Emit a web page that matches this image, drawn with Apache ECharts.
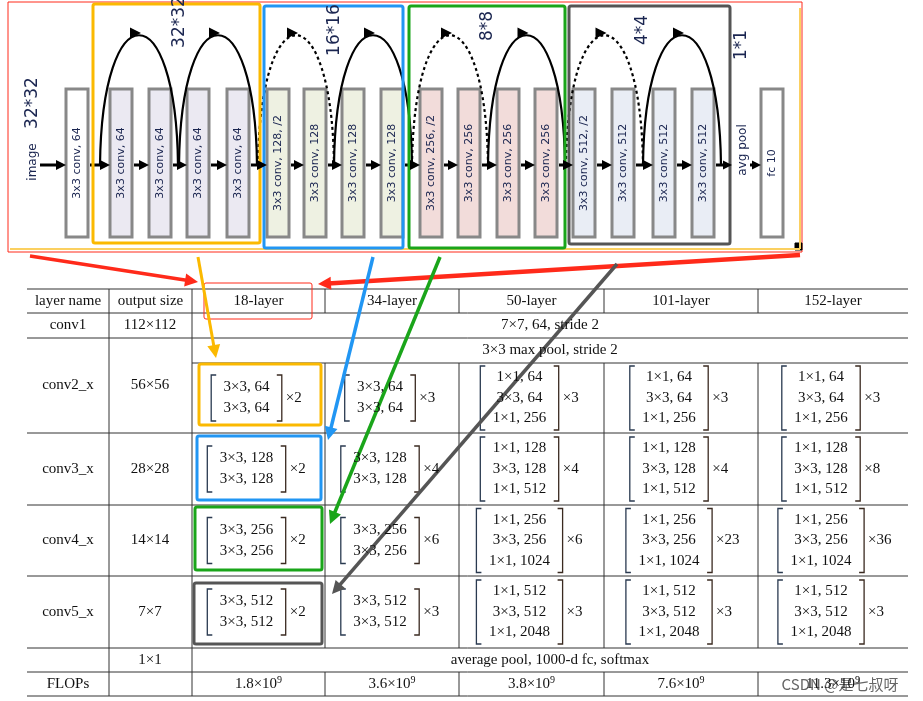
<!DOCTYPE html>
<html>
<head>
<meta charset="utf-8">
<script src="https://cdn.jsdelivr.net/npm/echarts@6/dist/echarts.min.js"></script>
<style>html,body{margin:0;padding:0;background:#fff}#c{width:923px;height:701px}</style>
</head>
<body>
<div id="c"></div>
<script>
// ---- data ----
var blockLabels = ['3x3 conv, 64','3x3 conv, 64','3x3 conv, 64','3x3 conv, 64','3x3 conv, 64',
  '3x3 conv, 128, /2','3x3 conv, 128','3x3 conv, 128','3x3 conv, 128',
  '3x3 conv, 256, /2','3x3 conv, 256','3x3 conv, 256','3x3 conv, 256',
  '3x3 conv, 512, /2','3x3 conv, 512','3x3 conv, 512','3x3 conv, 512'];
var blockX = [66,110,149,187,227,267,304,342,381,420,458,497,535,573,612,653,692];
var blockFill = ['#ffffff','#ebe9f2','#ebe9f2','#ebe9f2','#ebe9f2','#eef1e2','#eef1e2','#eef1e2','#eef1e2',
  '#f2dcda','#f2dcda','#f2dcda','#f2dcda','#e9edf5','#e9edf5','#e9edf5','#e9edf5'];
var arcs = [[100,178,0],[179,257,0],[258,334,1],[334,412,0],[412,488,1],[488,565,0],[566,643,1],[643,721,0]];
var sizeLabels = [['32*32',180,22],['16*16',335,30],['8*8',488,26],['4*4',643,30],['1*1',742,45]];
var groups = [[93,4,167,239,'#fbb900'],[264,6,139,242,'#2196f3'],[409,6,156,242,'#1aa51a'],[569,6,161,238,'#555555']];

var colX = [27,109,192,325,459,604,758,908];
var rowY = [289,313,338,363,433,505,576,648,672,696];
var headers = ['layer name','output size','18-layer','34-layer','50-layer','101-layer','152-layer'];
var layerNames = ['conv1','conv2_x','conv3_x','conv4_x','conv5_x','','FLOPs'];
var outputSizes = ['112×112','56×56','28×28','14×14','7×7','1×1',''];
var cells = [
  [[['3×3, 64','3×3, 64'],'×2'],[['3×3, 64','3×3, 64'],'×3'],[['1×1, 64','3×3, 64','1×1, 256'],'×3'],[['1×1, 64','3×3, 64','1×1, 256'],'×3'],[['1×1, 64','3×3, 64','1×1, 256'],'×3']],
  [[['3×3, 128','3×3, 128'],'×2'],[['3×3, 128','3×3, 128'],'×4'],[['1×1, 128','3×3, 128','1×1, 512'],'×4'],[['1×1, 128','3×3, 128','1×1, 512'],'×4'],[['1×1, 128','3×3, 128','1×1, 512'],'×8']],
  [[['3×3, 256','3×3, 256'],'×2'],[['3×3, 256','3×3, 256'],'×6'],[['1×1, 256','3×3, 256','1×1, 1024'],'×6'],[['1×1, 256','3×3, 256','1×1, 1024'],'×23'],[['1×1, 256','3×3, 256','1×1, 1024'],'×36']],
  [[['3×3, 512','3×3, 512'],'×2'],[['3×3, 512','3×3, 512'],'×3'],[['1×1, 512','3×3, 512','1×1, 2048'],'×3'],[['1×1, 512','3×3, 512','1×1, 2048'],'×3'],[['1×1, 512','3×3, 512','1×1, 2048'],'×3']]
];
var flops = ['1.8','3.6','3.8','7.6','11.3'];
var tableBoxes = [[199,364,122,61,'#fbb900'],[197,436,124,64,'#2196f3'],[195,507,127,63,'#1aa51a'],[194,583,128,61,'#555555']];
var pointers = [[30,256,198,282,'#ff2a1a',3.5],[800,255,318,284,'#ff2a1a',4.5],[198,257,216,358,'#fbb900',3],[373,257,328,440,'#2196f3',3.5],[440,257,330,524,'#1aa51a',3.5],[617,264,332,594,'#555555',3.5]];

// ---- drawing ----
var el = [];
var SANS = '"DejaVu Sans", sans-serif', SERIF = '"Liberation Serif", serif';
function head(x, y, ang, color, s) {
  s = s || 10;
  var c = Math.cos(ang), n = Math.sin(ang);
  el.push({type:'polygon', z:5, shape:{points:[[x,y],[x-s*c+s*0.5*n,y-s*n-s*0.5*c],[x-s*c-s*0.5*n,y-s*n+s*0.5*c]]}, style:{fill:color}});
}
function line(x1,y1,x2,y2,color,w,z){ el.push({type:'line', z:z||3, shape:{x1:x1,y1:y1,x2:x2,y2:y2}, style:{stroke:color,lineWidth:w}}); }
function txt(t,x,y,font,color,rot,align){ el.push({type:'text', z:6, x:x, y:y, rotation:rot||0, style:{text:t, font:font, fill:color, align:align||'center', verticalAlign:'middle'}}); }
function rect(x,y,w,h,stroke,lw,fill,r,z){ el.push({type:'rect', z:z||2, shape:{x:x,y:y,width:w,height:h,r:r||0}, style:{stroke:stroke,lineWidth:lw,fill:fill||'none'}}); }

// top diagram
rect(8,2,794,250,'#ff2a1a',1);
line(10,249,800,249,'#fbd060',2);
line(800,8,800,249,'#fbd060',2);
rect(795,243,7,7,'#000',1,'#000');
groups.forEach(function(g){ rect(g[0],g[1],g[2],g[3],g[4],3,'none',2,4); });
var BY = 165;
blockX.forEach(function(x,i){
  rect(x,89,22,148,'#888',3,blockFill[i]);
  txt(blockLabels[i],x+11,163,'11px '+SANS,'#1a2550',Math.PI/2);
});
rect(761,89,22,148,'#888',3,'#fff');
txt('fc 10',772,163,'11px '+SANS,'#1a2550',Math.PI/2);
txt('image',33,162,'12px '+SANS,'#1a2550',Math.PI/2);
txt('32*32',33,103,'17px '+SANS,'#1a2550',Math.PI/2);
txt('avg pool',743,150,'12px '+SANS,'#1a2550',Math.PI/2);
// straight arrows
line(40,BY,60,BY,'#000',3); head(66,BY,0,'#000');
for (var i=0;i<blockX.length-1;i++){ line(blockX[i]+24,BY,blockX[i+1]-6,BY,'#000',3); head(blockX[i+1],BY,0,'#000'); }
line(716,BY,725,BY,'#000',3); head(732,BY,0,'#000',9);
line(750,BY,755,BY,'#000',3); head(761,BY,0,'#000',9);
// skip connections
arcs.forEach(function(a){
  el.push({type:'bezierCurve', z:3, shape:{x1:a[0],y1:BY,cpx1:a[0]+2,cpy1:-8,cpx2:a[1]-2,cpy2:-8,x2:a[1],y2:BY},
    style:{stroke:'#000',lineWidth:2.2,fill:'none',lineDash:a[2]?[3,3]:null}});
  head((a[0]+a[1])/2+2,33,0,'#000',11);
});
sizeLabels.forEach(function(s){ txt(s[0],s[1],s[2],'17px '+SANS,'#1a2550',Math.PI/2); });

// table
txt('CSDN @是七叔呀',840,684,'15px "Noto Sans CJK SC", sans-serif','#666');
line(colX[0],rowY[0],colX[7],rowY[0],'#333',1.2);
[1,2,4,5,6,7,8,9].forEach(function(r){ line(colX[0],rowY[r],colX[7],rowY[r],'#333',1); });
line(colX[2],rowY[3],colX[7],rowY[3],'#333',1);
line(colX[1],rowY[0],colX[1],rowY[9],'#333',1);
line(colX[2],rowY[0],colX[2],rowY[9],'#333',1);
[3,4,5,6].forEach(function(c){
  line(colX[c],rowY[0],colX[c],rowY[1],'#333',1);
  line(colX[c],rowY[3],colX[c],rowY[7],'#333',1);
  line(colX[c],rowY[8],colX[c],rowY[9],'#333',1);
});
var F = '15px '+SERIF;
headers.forEach(function(h,i){ txt(h,(colX[i]+colX[i+1])/2,301,F,'#111'); });
var nameTop = [1,2,4,5,6,7,8];
layerNames.forEach(function(n,i){
  var r = nameTop[i]; var cy = (rowY[r]+rowY[r+1])/2;
  if (i===1) cy = (rowY[2]+rowY[4])/2;
  txt(n,68,cy,F,'#111'); txt(outputSizes[i],150,cy,F,'#111');
});
txt('7×7, 64, stride 2',550,325,F,'#111');
txt('3×3 max pool, stride 2',550,350,F,'#111');
txt('average pool, 1000-d fc, softmax',550,660,F,'#111');
cells.forEach(function(row,r){
  var top = rowY[3+r], bot = rowY[4+r], cy = (top+bot)/2;
  row.forEach(function(cell,c){
    var lines = cell[0], cx = (colX[2+c]+colX[3+c])/2 - 12;
    var maxLen = Math.max.apply(null, lines.map(function(s){return s.length;}));
    var three = lines.length === 3;
    var hw = maxLen*3.9 + 8, lh = three ? 20.5 : 21, hh = three ? 32 : 23;
    lines.forEach(function(s,k){ txt(s,cx,cy+(k-(lines.length-1)/2)*lh,F,'#111'); });
    el.push({type:'polyline', z:3, shape:{points:[[cx-hw+5,cy-hh],[cx-hw,cy-hh],[cx-hw,cy+hh],[cx-hw+5,cy+hh]]}, style:{stroke:'#2a3a50',lineWidth:1.3,fill:'none'}});
    el.push({type:'polyline', z:3, shape:{points:[[cx+hw-5,cy-hh],[cx+hw,cy-hh],[cx+hw,cy+hh],[cx+hw-5,cy+hh]]}, style:{stroke:'#3a2a20',lineWidth:1.3,fill:'none'}});
    txt(cell[1],cx+hw+4,cy,F,'#111',0,'left');
  });
});
flops.forEach(function(f,c){
  el.push({type:'text', z:6, x:(colX[2+c]+colX[3+c])/2, y:684,
    style:{text:f+'×10{s|9}', font:F, fill:'#111', align:'center', verticalAlign:'middle', rich:{s:{font:'10px '+SERIF, fill:'#111', verticalAlign:'top', padding:[0,0,8,0]}}}});
});
tableBoxes.forEach(function(b){ rect(b[0],b[1],b[2],b[3],b[4],3,'none',2,4); });
rect(204,283,108,36,'#ff2a1a',1,'none',2,4);
pointers.forEach(function(p){
  var ang = Math.atan2(p[3]-p[1],p[2]-p[0]);
  line(p[0],p[1],p[2]-10*Math.cos(ang),p[3]-10*Math.sin(ang),p[4],p[5],5);
  head(p[2],p[3],ang,p[4],13);
});

var chart = echarts.init(document.getElementById('c'));
chart.setOption({ animation:false, graphic:{elements:el} });
</script>
</body>
</html>
